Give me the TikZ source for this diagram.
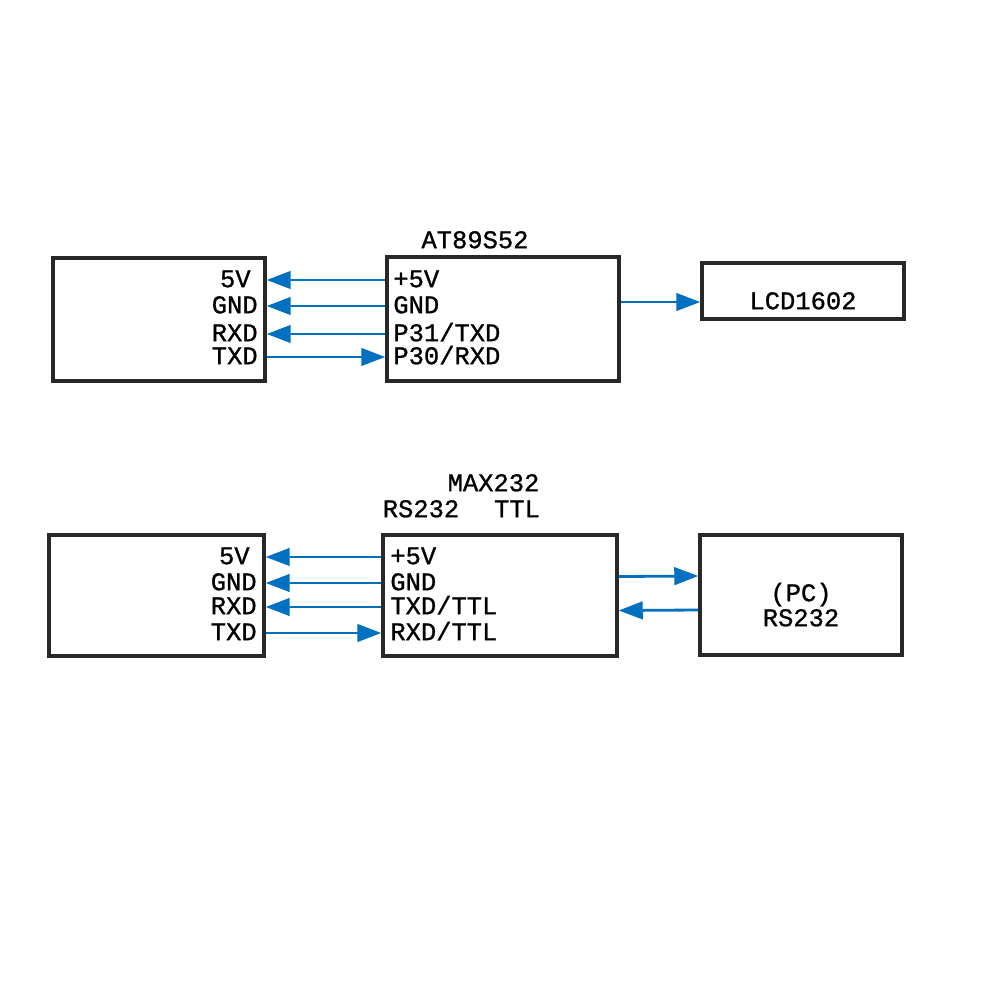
\documentclass[tikz,border=0pt]{standalone}
\usepackage{fontspec}
\setmainfont{Liberation Serif}
\setmonofont[FakeBold=1]{Liberation Mono}
\usetikzlibrary{arrows.meta}
\definecolor{wireblue}{RGB}{0,112,192}
\definecolor{boxgray}{RGB}{40,40,40}
\tikzset{
  block/.style={draw=boxgray, line width=2pt, inner sep=0pt},
  pin/.style={font=\ttfamily\fontsize{14.5}{17}\selectfont, inner sep=0pt, text height=8.2pt, text depth=0pt},
  sig/.style={draw=wireblue, line width=1.6pt},
}
\begin{document}
\begin{tikzpicture}[>={Triangle[length=4.8mm,width=3.5mm]}, x=0.02cm, y=-0.02cm]
        \fill[white] (0,0) rectangle (1000,1000);
        \useasboundingbox (0,0) rectangle (1000,1000);

        % Nodes (top)
        \node[block, minimum width=4.24cm, minimum height=2.46cm] (host1) at (159,319.5) {};
        \node[block, minimum width=4.64cm, minimum height=2.48cm] (mcu) at (503,319) {};
        \node[block, minimum width=4.04cm, minimum height=1.12cm] (lcd) at (803,291) {};
        \node[pin] (mcuname) at (475,241) {AT89S52};
        \node[pin] (lcdname) at (803,302) {LCD1602};

        \node[pin, anchor=east] (h5v) at (251,280) {5V};
        \node[pin, anchor=east] (hgnd) at (258,306) {GND};
        \node[pin, anchor=east] (hrxd) at (258,334) {RXD};
        \node[pin, anchor=east] (htxd) at (258,357) {TXD};

        \node[pin, anchor=west] (m5v) at (393,280) {+5V};
        \node[pin, anchor=west] (mgnd) at (393,306) {GND};
        \node[pin, anchor=west] (mtxd) at (393,334) {P31/TXD};
        \node[pin, anchor=west] (mrxd) at (393,357) {P30/RXD};

        % Nodes (bottom)
        \node[block, minimum width=4.3cm, minimum height=2.42cm] (host2) at (156.5,595.5) {};
        \node[block, minimum width=4.68cm, minimum height=2.42cm] (max) at (500,595.5) {};
        \node[block, minimum width=4.04cm, minimum height=2.4cm] (pc) at (801,595) {};
        \node[pin] (maxname) at (493.5,484) {MAX232};
        \node[pin] (rsside) at (421,510) {RS232};
        \node[pin] (ttlside) at (517,510) {TTL};
        \node[pin] (pcname) at (801,594) {(PC)};
        \node[pin] (pcport) at (801,619) {RS232};

        \node[pin, anchor=east] (g5v) at (250,557) {5V};
        \node[pin, anchor=east] (ggnd) at (257,583) {GND};
        \node[pin, anchor=east] (grxd) at (257,607) {RXD};
        \node[pin, anchor=east] (gtxd) at (257,633) {TXD};

        \node[pin, anchor=west] (x5v) at (390,557) {+5V};
        \node[pin, anchor=west] (xgnd) at (390,583) {GND};
        \node[pin, anchor=west] (xtxd) at (390,607) {TXD/TTL};
        \node[pin, anchor=west] (xrxd) at (390,633) {RXD/TTL};

        % Arrows (top)
        \draw[->, sig] (mcu.west |- m5v) -- (host1.east |- m5v);
        \draw[->, sig] (mcu.west |- mgnd) -- (host1.east |- mgnd);
        \draw[->, sig] (mcu.west |- mtxd) -- (host1.east |- mtxd);
        \draw[->, sig] (host1.east |- mrxd) -- (mcu.west |- mrxd);
        \draw[->, sig] (mcu.east |- lcdname) -- (lcd.west |- lcdname);

        % Arrows (bottom)
        \draw[->, sig] (max.west |- x5v) -- (host2.east |- x5v);
        \draw[->, sig] (max.west |- xgnd) -- (host2.east |- xgnd);
        \draw[->, sig] (max.west |- xtxd) -- (host2.east |- xtxd);
        \draw[->, sig] (host2.east |- xrxd) -- (max.west |- xrxd);
        \draw[->, sig] ([yshift=0.38cm]max.east) -- ([yshift=0.38cm]pc.west);
        \draw[->, sig] ([yshift=-0.3cm]pc.west) -- ([yshift=-0.3cm]max.east);
\end{tikzpicture}
\end{document}
